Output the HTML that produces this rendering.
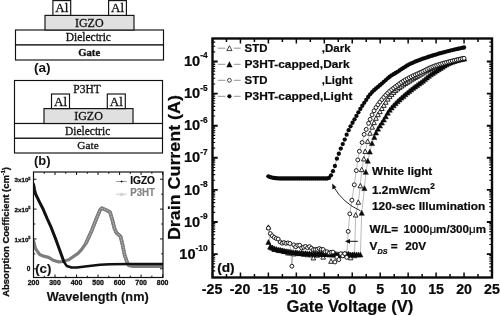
<!DOCTYPE html>
<html lang="en">
<head>
<meta charset="utf-8">
<title>Figure</title>
<style>
html,body{margin:0;padding:0;background:#fff;}
body{width:500px;height:316px;overflow:hidden;font-family:"Liberation Sans",Arial,sans-serif;}
svg{display:block;}
svg text{white-space:pre;}
</style>
</head>
<body>
<svg width="500" height="316" viewBox="0 0 500 316">
<rect width="500" height="316" fill="#fff"/>
<g fill="#fff" stroke="#111" stroke-width="1.15">
<rect x="15.5" y="30" width="148" height="15"/>
<rect x="15.5" y="45" width="148" height="15"/>
<rect x="45" y="15.4" width="89" height="14.6" fill="#e0e0e0"/>
<rect x="52.9" y="0.6" width="17.8" height="14.8"/>
<rect x="108.6" y="0.6" width="17.8" height="14.8"/>
<rect x="14.5" y="80.5" width="148" height="43"/>
<rect x="14.5" y="123.5" width="148" height="14.8"/>
<rect x="14.5" y="138.3" width="148" height="14.7"/>
<rect x="44" y="108.6" width="89" height="14.9" fill="#e0e0e0"/>
<rect x="51.5" y="94" width="18" height="14.6"/>
<rect x="107.3" y="94" width="18" height="14.6"/>
</g>
<g font-family='"Liberation Serif", "Times New Roman", Times, serif' fill="#111" text-anchor="middle" stroke="#111" stroke-width="0.3">
<text x="61.8" y="12.4" font-size="13.1">Al</text>
<text x="117.5" y="12.4" font-size="13.1">Al</text>
<text x="89.3" y="26.8" font-size="12">IGZO</text>
<text x="88.3" y="41.2" font-size="11.5">Dielectric</text>
<text x="89.2" y="56.2" font-size="10.7" font-weight="bold">Gate</text>
<text x="87" y="93.4" font-size="11.5">P3HT</text>
<text x="60.5" y="105.8" font-size="13.1">Al</text>
<text x="116.3" y="105.8" font-size="13.1">Al</text>
<text x="88.5" y="120.3" font-size="12">IGZO</text>
<text x="87.6" y="134.6" font-size="11.5">Dielectric</text>
<text x="88" y="149.4" font-size="11.3">Gate</text>
</g>
<g font-family='"Liberation Sans", Arial, Helvetica, sans-serif' fill="#111" font-weight="bold">
<text x="34" y="71.6" font-size="12.3" textLength="16.6" lengthAdjust="spacingAndGlyphs">(a)</text>
<text x="34" y="164.6" font-size="12.3" textLength="16.6" lengthAdjust="spacingAndGlyphs">(b)</text>
</g>
<clipPath id="cc"><rect x="33.5" y="172" width="129.5" height="105.5"/></clipPath>
<g clip-path="url(#cc)" fill="none" stroke-linejoin="round">
<path d="M33.4 240.2 L35.4 248.3 L39.5 254.4 L44.5 256.4 L48.6 257.4 L52.6 259.9 L58.7 261.9 L62.8 261.5 L68.8 259.8 L78 253.4 L81.5 249.6 L85.8 243.5 L91.8 230.4 L96.6 218.2 L100 210.1 L101.9 208.1 L106.3 210.1 L110 212.1 L112.4 220.2 L114.4 228.3 L116.4 232.8 L120.5 236.4 L122.5 244.5 L124.5 254.7 L127 262 L128.8 265.6 L132 266.3 L163 266.3" stroke="#7d7d7d" stroke-width="3.2"/>
<path d="M85.8 243.5 L91.8 230.4 L96.6 218.2 L100 210.1 L101.9 208.1 L106.3 210.1 L110 212.1 L112.4 220.2 L114.4 228.3 L116.4 232.8 L120.5 236.4 L122.5 244.5 L124.5 254.7 L127 262 L128.8 265.6" stroke="#7d7d7d" stroke-width="3.7"/>
<path d="M85.8 243.5 L91.8 230.4 L96.6 218.2 L100 210.1 L101.9 208.1 L106.3 210.1 L110 212.1 L112.4 220.2 L114.4 228.3 L116.4 232.8 L120.5 236.4 L122.5 244.5 L124.5 254.7 L127 262 L128.8 265.6" stroke="#cdcdcd" stroke-width="1" stroke-dasharray="0.9 0.9"/>
<path d="M33.4 183.5 L34.5 189.5 L35.6 194 L39.4 201.8 L43.2 209.3 L46.9 218 L50.7 226.3 L56.4 240.9 L61.1 254.1 L64 262" stroke="#111" stroke-width="3" stroke-linecap="butt"/>
<path d="M64 262 L66.8 266 L71.5 267.5 L76.9 267.6 L85 266.6 L100 264.8 L110 264.2 L130 264.1 L163 264.1" stroke="#111" stroke-width="2.5" stroke-linecap="round"/>
</g>
<rect x="33.5" y="172" width="129.5" height="105.5" fill="none" stroke="#111" stroke-width="1.2"/>
<path d="M33.5 277.5v-3M33.5 172v3M44.26 277.5v-1.8M44.26 172v1.8M55.02 277.5v-3M55.02 172v3M65.78 277.5v-1.8M65.78 172v1.8M76.54 277.5v-3M76.54 172v3M87.3 277.5v-1.8M87.3 172v1.8M98.06 277.5v-3M98.06 172v3M108.82 277.5v-1.8M108.82 172v1.8M119.58 277.5v-3M119.58 172v3M130.34 277.5v-1.8M130.34 172v1.8M141.1 277.5v-3M141.1 172v3M151.86 277.5v-1.8M151.86 172v1.8M162.62 277.5v-3M162.62 172v3M33.5 268.8h3M163 268.8h-3M33.5 253.87h1.8M163 253.87h-1.8M33.5 238.94h3M163 238.94h-3M33.5 224.01h1.8M163 224.01h-1.8M33.5 209.08h3M163 209.08h-3M33.5 194.15h1.8M163 194.15h-1.8M33.5 179.22h3M163 179.22h-3" stroke="#111" stroke-width="1" fill="none"/>
<g font-family='"Liberation Sans", Arial, Helvetica, sans-serif' fill="#111" font-weight="bold" stroke="#111" stroke-width="0.3">
<text x="33.5" y="285.3" font-size="6.9" text-anchor="middle">200</text>
<text x="55.02" y="285.3" font-size="6.9" text-anchor="middle">300</text>
<text x="76.54" y="285.3" font-size="6.9" text-anchor="middle">400</text>
<text x="98.06" y="285.3" font-size="6.9" text-anchor="middle">500</text>
<text x="119.58" y="285.3" font-size="6.9" text-anchor="middle">600</text>
<text x="141.1" y="285.3" font-size="6.9" text-anchor="middle">700</text>
<text x="162.62" y="285.3" font-size="6.9" text-anchor="middle">800</text>
<text x="30.6" y="241.84" font-size="6.2" text-anchor="end">1x10<tspan font-size="4" dy="-2.6">5</tspan></text>
<text x="30.6" y="211.98" font-size="6.2" text-anchor="end">2x10<tspan font-size="4" dy="-2.6">5</tspan></text>
<text x="30.6" y="182.12" font-size="6.2" text-anchor="end">3x10<tspan font-size="4" dy="-2.6">5</tspan></text>
<text x="30.3" y="271.1" font-size="6.4" text-anchor="end">0</text>
<text x="46.7" y="301.2" font-size="11.9" textLength="102" lengthAdjust="spacingAndGlyphs" stroke-width="0.15">Wavelength (nm)</text>
<text transform="translate(8.6 296.8) rotate(-90)" font-size="8.7" textLength="129.7" lengthAdjust="spacingAndGlyphs">Absorption Coefficient (cm<tspan font-size="5" dy="-3.2">-1</tspan><tspan dy="3.2">)</tspan></text>
<text x="35.2" y="273.2" font-size="12.6" textLength="16.2" lengthAdjust="spacingAndGlyphs" stroke-width="0.15">(c)</text>
<text x="130.2" y="183.5" font-size="10.1" textLength="24.8" lengthAdjust="spacingAndGlyphs" stroke-width="0.2">IGZO</text>
<text x="130.2" y="195.7" font-size="10.1" textLength="24.8" lengthAdjust="spacingAndGlyphs" fill="#858585" stroke="#858585" stroke-width="0.2">P3HT</text>
</g>
<path d="M116.2 181.5h10.6" stroke="#444" stroke-width="0.55"/>
<path d="M120.6 181.5h2M121.6 180.5v2" stroke="#111" stroke-width="0.9"/>
<path d="M116.2 194.2h10.6" stroke="#a0a0a0" stroke-width="0.55"/>
<path d="M120.2 195.3l1.4-2.5 1.4 2.5z" fill="#fff" stroke="#999" stroke-width="0.5"/>
<clipPath id="cd"><rect x="212.5" y="38.5" width="279.5" height="239"/></clipPath>
<g clip-path="url(#cd)">
<path d="M268.4 242.4 L270.36 247.1 L272.31 248.19 L274.27 248.66 L276.23 249.41 L278.18 249.83 L280.14 250.16 L282.1 250.77 L284.05 250.99 L286.01 251.53 L287.97 251.72 L289.92 252.03 L291.88 252.42 L293.83 252.83 L295.79 252.77 L297.75 253 L299.7 253.33 L301.66 253.6 L303.62 253.58 L305.57 253.63 L307.53 253.98 L309.49 253.72 L311.44 254.14 L313.4 254 L315.36 254.02 L317.31 254.08 L319.27 254.21 L321.23 254.45 L323.18 254.24 L325.14 254.44 L327.1 254.5 L329.05 254.43 L331.01 254.53 L332.96 254.37 L334.92 254.4 L336.88 254.49 L338.83 254.71 L340.79 254.63 L342.75 254.61 L344.7 254.74 L346.66 254.71 L348.62 254.66 L350.57 254.88 L352.53 254.85 L354.49 254.68 L356.44 254.82 L358.4 254.81 L360.36 254.95 L361.7 213.2 L364.4 188.5 L365.8 172.3 L367.8 161.1 L369.8 152 L372 143.5 L374.3 137.4 L376.01 132.96 L377.96 129.08 L379.92 125.95 L381.88 123.01 L383.83 119.94 L385.79 116.67 L387.75 113.12 L389.7 110.23 L391.66 107.81 L393.62 105.66 L395.57 103.64 L397.53 101.67 L399.49 99.81 L401.44 98.05 L403.4 96.34 L405.36 94.65 L407.31 92.99 L409.27 91.38 L411.22 89.8 L413.18 88.27 L415.14 86.8 L417.09 85.38 L419.05 83.97 L421.01 82.55 L422.96 81.09 L424.92 79.54 L426.88 77.91 L428.83 76.28 L430.79 74.79 L432.75 73.41 L434.7 72.1 L436.66 70.83 L438.62 69.61 L440.57 68.42 L442.53 67.2 L444.49 65.97 L446.44 64.78 L448.4 63.71 L450.35 62.83 L452.31 62.11 L454.27 61.43 L456.22 60.79 L458.18 60.21 L460.14 59.71 L462.09 59.3 L464.05 59" fill="none" stroke="#666" stroke-width="0.45"/>
<path d="M268.4 227.4 L270.36 247.07 L272.31 247.59 L274.27 249.69 L276.23 249.67 L278.18 250.55 L280.14 250.79 L282.1 250.66 L284.05 251.69 L286.01 251.76 L287.97 253.17 L289.92 252.85 L291.88 253.2 L293.83 254.08 L295.79 252.75 L297.75 253.79 L299.7 253.49 L301.66 252.87 L303.62 254.44 L305.57 253.42 L307.53 254.91 L309.49 254.09 L311.44 255.14 L313.4 258.1 L315.36 254.28 L317.31 255.38 L319.27 253.82 L321.23 254.04 L323.18 257.3 L325.14 254.18 L327.1 254.56 L329.05 254.92 L331.01 261.5 L332.96 255.1 L334.92 253.9 L336.88 255.52 L338.83 255.59 L340.79 254.74 L342.75 255.28 L344.7 254.05 L346.66 254.28 L348.62 254.06 L350.57 258 L352.53 254.77 L354.49 255.91 L355.7 215.2 L358.3 202.4 L360.3 186 L361.7 169.8 L363.8 159.1 L365.2 151.6 L367.6 141.5 L370 133.4 L372.2 127.3 L374.05 122.78 L376.01 118.46 L377.96 114.85 L379.92 111.78 L381.88 108.67 L383.83 105.53 L385.79 102.41 L387.75 99.31 L389.7 96.77 L391.66 94.56 L393.62 92.57 L395.57 90.77 L397.53 89.12 L399.49 87.64 L401.44 86.29 L403.4 84.99 L405.36 83.71 L407.31 82.46 L409.27 81.25 L411.22 80.07 L413.18 78.89 L415.14 77.73 L417.09 76.58 L419.05 75.44 L421.01 74.31 L422.96 73.17 L424.92 72 L426.88 70.79 L428.83 69.64 L430.79 68.67 L432.75 67.84 L434.7 67.06 L436.66 66.33 L438.62 65.64 L440.57 64.99 L442.53 64.38 L444.49 63.78 L446.44 63.21 L448.4 62.65 L450.35 62.1 L452.31 61.55 L454.27 61.03 L456.22 60.52 L458.18 60.04 L460.14 59.57 L462.09 59.12 L464.05 58.7" fill="none" stroke="#666" stroke-width="0.45"/>
<path d="M268.4 228.12 L270.36 233.58 L272.31 235.81 L274.27 237.39 L276.23 238.47 L278.18 239.08 L280.14 241.97 L282.1 243.17 L284.05 242.56 L286.01 243.3 L287.97 242.9 L289.92 243.5 L291.88 266.2 L293.83 244.86 L295.79 246.71 L297.75 245.32 L299.7 245.28 L301.66 247.98 L303.62 247.16 L305.57 246.42 L307.53 247.71 L309.49 246.63 L311.44 248.2 L313.4 249.62 L315.36 249.55 L317.31 249.36 L319.27 248.54 L321.23 249.32 L323.18 249.52 L325.14 251.75 L327.1 251.75 L329.05 253.01 L331.01 252.27 L332.96 252.11 L334.92 262 L336.88 257.3 L338.83 259.6 L340.79 253.78 L342.75 255.9 L344.7 253.62 L346.66 257.3 L348.2 231.4 L349.8 213.8 L351.9 200.2 L354.3 184.8 L356.3 170.6 L357.8 159.9 L359.4 151.3 L362.1 142.5 L364.1 134.4 L366.2 129.4 L368.6 123.3 L370.14 119.37 L372.09 114.85 L374.05 110.81 L376.01 107.51 L377.96 104.62 L379.92 102.02 L381.88 99.57 L383.83 97.26 L385.79 95.1 L387.75 93.11 L389.7 91.29 L391.66 89.64 L393.62 88.11 L395.57 86.64 L397.53 85.18 L399.49 83.75 L401.44 82.36 L403.4 81.05 L405.36 79.85 L407.31 78.75 L409.27 77.72 L411.22 76.73 L413.18 75.77 L415.14 74.85 L417.09 73.96 L419.05 73.09 L421.01 72.21 L422.96 71.31 L424.92 70.33 L426.88 69.27 L428.83 68.25 L430.79 67.39 L432.75 66.64 L434.7 65.93 L436.66 65.27 L438.62 64.64 L440.57 64.05 L442.53 63.48 L444.49 62.94 L446.44 62.41 L448.4 61.89 L450.35 61.39 L452.31 60.89 L454.27 60.41 L456.22 59.95 L458.18 59.51 L460.14 59.08 L462.09 58.67 L464.05 58.28" fill="none" stroke="#666" stroke-width="0.45"/>
<path d="M268.4 176.37 L270.36 177.15 L272.31 177.66 L274.27 177.99 L276.23 178.26 L278.18 178.44 L280.14 178.5 L282.1 178.5 L284.05 178.5 L286.01 178.5 L287.97 178.5 L289.92 178.5 L291.88 178.5 L293.83 178.5 L295.79 178.5 L297.75 178.5 L299.7 178.5 L301.66 178.5 L303.62 178.5 L305.57 178.5 L307.53 178.5 L309.49 178.5 L311.44 178.5 L313.4 178.5 L315.36 178.5 L317.31 178.5 L319.27 178.5 L321.23 178.5 L323.18 178.5 L325.14 178.5 L327.1 178.5 L329.05 177.93 L331.01 175.31 L332.96 171.14 L334.92 165.98 L336.88 158.69 L338.83 153.75 L340.79 148.59 L342.75 144.07 L344.7 139.53 L346.66 134.63 L348.62 130.13 L350.57 126.33 L352.53 122.76 L354.49 119.32 L356.44 115.92 L358.4 112.37 L360.36 108.91 L362.31 105.77 L364.27 102.82 L366.23 99.92 L368.18 96.99 L370.14 94.3 L372.09 92.12 L374.05 90.23 L376.01 88.51 L377.96 86.89 L379.92 85.26 L381.88 83.55 L383.83 81.78 L385.79 80.03 L387.75 78.33 L389.7 76.76 L391.66 75.35 L393.62 74.13 L395.57 72.98 L397.53 71.78 L399.49 70.51 L401.44 69.2 L403.4 67.9 L405.36 66.63 L407.31 65.44 L409.27 64.36 L411.22 63.42 L413.18 62.53 L415.14 61.69 L417.09 60.9 L419.05 60.14 L421.01 59.42 L422.96 58.72 L424.92 58.04 L426.88 57.39 L428.83 56.74 L430.79 56.11 L432.75 55.49 L434.7 54.88 L436.66 54.29 L438.62 53.72 L440.57 53.17 L442.53 52.63 L444.49 52.1 L446.44 51.58 L448.4 51.08 L450.35 50.59 L452.31 50.1 L454.27 49.64 L456.22 49.18 L458.18 48.74 L460.14 48.31 L462.09 47.89 L464.05 47.49" fill="none" stroke="#666" stroke-width="0.45"/>
<g stroke="#111" stroke-width="0.9"><path d="M268.4 224.87l2.3 4.37h-4.6z" fill="#fff"/><path d="M270.36 244.54l2.3 4.37h-4.6z" fill="#fff"/><path d="M272.31 245.05l2.3 4.37h-4.6z" fill="#fff"/><path d="M274.27 247.16l2.3 4.37h-4.6z" fill="#fff"/><path d="M276.23 247.14l2.3 4.37h-4.6z" fill="#fff"/><path d="M278.18 248.02l2.3 4.37h-4.6z" fill="#fff"/><path d="M280.14 248.26l2.3 4.37h-4.6z" fill="#fff"/><path d="M282.1 248.12l2.3 4.37h-4.6z" fill="#fff"/><path d="M284.05 249.15l2.3 4.37h-4.6z" fill="#fff"/><path d="M286.01 249.22l2.3 4.37h-4.6z" fill="#fff"/><path d="M287.97 250.64l2.3 4.37h-4.6z" fill="#fff"/><path d="M289.92 250.32l2.3 4.37h-4.6z" fill="#fff"/><path d="M291.88 250.66l2.3 4.37h-4.6z" fill="#fff"/><path d="M293.83 251.55l2.3 4.37h-4.6z" fill="#fff"/><path d="M295.79 250.21l2.3 4.37h-4.6z" fill="#fff"/><path d="M297.75 251.25l2.3 4.37h-4.6z" fill="#fff"/><path d="M299.7 250.96l2.3 4.37h-4.6z" fill="#fff"/><path d="M301.66 250.34l2.3 4.37h-4.6z" fill="#fff"/><path d="M303.62 251.9l2.3 4.37h-4.6z" fill="#fff"/><path d="M305.57 250.88l2.3 4.37h-4.6z" fill="#fff"/><path d="M307.53 252.37l2.3 4.37h-4.6z" fill="#fff"/><path d="M309.49 251.55l2.3 4.37h-4.6z" fill="#fff"/><path d="M311.44 252.61l2.3 4.37h-4.6z" fill="#fff"/><path d="M313.4 255.57l2.3 4.37h-4.6z" fill="#fff"/><path d="M315.36 251.74l2.3 4.37h-4.6z" fill="#fff"/><path d="M317.31 252.84l2.3 4.37h-4.6z" fill="#fff"/><path d="M319.27 251.28l2.3 4.37h-4.6z" fill="#fff"/><path d="M321.23 251.5l2.3 4.37h-4.6z" fill="#fff"/><path d="M323.18 254.77l2.3 4.37h-4.6z" fill="#fff"/><path d="M325.14 251.65l2.3 4.37h-4.6z" fill="#fff"/><path d="M327.1 252.03l2.3 4.37h-4.6z" fill="#fff"/><path d="M329.05 252.39l2.3 4.37h-4.6z" fill="#fff"/><path d="M331.01 258.97l2.3 4.37h-4.6z" fill="#fff"/><path d="M332.96 252.57l2.3 4.37h-4.6z" fill="#fff"/><path d="M334.92 251.36l2.3 4.37h-4.6z" fill="#fff"/><path d="M336.88 252.99l2.3 4.37h-4.6z" fill="#fff"/><path d="M338.83 253.05l2.3 4.37h-4.6z" fill="#fff"/><path d="M340.79 252.2l2.3 4.37h-4.6z" fill="#fff"/><path d="M342.75 252.75l2.3 4.37h-4.6z" fill="#fff"/><path d="M344.7 251.52l2.3 4.37h-4.6z" fill="#fff"/><path d="M346.66 251.75l2.3 4.37h-4.6z" fill="#fff"/><path d="M348.62 251.53l2.3 4.37h-4.6z" fill="#fff"/><path d="M350.57 255.47l2.3 4.37h-4.6z" fill="#fff"/><path d="M352.53 252.24l2.3 4.37h-4.6z" fill="#fff"/><path d="M354.49 253.37l2.3 4.37h-4.6z" fill="#fff"/><path d="M355.7 212.67l2.3 4.37h-4.6z" fill="#fff"/><path d="M358.3 199.87l2.3 4.37h-4.6z" fill="#fff"/><path d="M360.3 183.47l2.3 4.37h-4.6z" fill="#fff"/><path d="M361.7 167.27l2.3 4.37h-4.6z" fill="#fff"/><path d="M363.8 156.57l2.3 4.37h-4.6z" fill="#fff"/><path d="M365.2 149.07l2.3 4.37h-4.6z" fill="#fff"/><path d="M367.6 138.97l2.3 4.37h-4.6z" fill="#fff"/><path d="M370 130.87l2.3 4.37h-4.6z" fill="#fff"/><path d="M372.2 124.77l2.3 4.37h-4.6z" fill="#fff"/><path d="M374.05 120.24l2.3 4.37h-4.6z" fill="#fff"/><path d="M376.01 115.92l2.3 4.37h-4.6z" fill="#fff"/><path d="M377.96 112.32l2.3 4.37h-4.6z" fill="#fff"/><path d="M379.92 109.25l2.3 4.37h-4.6z" fill="#fff"/><path d="M381.88 106.13l2.3 4.37h-4.6z" fill="#fff"/><path d="M383.83 102.99l2.3 4.37h-4.6z" fill="#fff"/><path d="M385.79 99.87l2.3 4.37h-4.6z" fill="#fff"/><path d="M387.75 96.78l2.3 4.37h-4.6z" fill="#fff"/><path d="M389.7 94.24l2.3 4.37h-4.6z" fill="#fff"/><path d="M391.66 92.03l2.3 4.37h-4.6z" fill="#fff"/><path d="M393.62 90.04l2.3 4.37h-4.6z" fill="#fff"/><path d="M395.57 88.23l2.3 4.37h-4.6z" fill="#fff"/><path d="M397.53 86.59l2.3 4.37h-4.6z" fill="#fff"/><path d="M399.49 85.11l2.3 4.37h-4.6z" fill="#fff"/><path d="M401.44 83.75l2.3 4.37h-4.6z" fill="#fff"/><path d="M403.4 82.46l2.3 4.37h-4.6z" fill="#fff"/><path d="M405.36 81.17l2.3 4.37h-4.6z" fill="#fff"/><path d="M407.31 79.92l2.3 4.37h-4.6z" fill="#fff"/><path d="M409.27 78.72l2.3 4.37h-4.6z" fill="#fff"/><path d="M411.22 77.53l2.3 4.37h-4.6z" fill="#fff"/><path d="M413.18 76.36l2.3 4.37h-4.6z" fill="#fff"/><path d="M415.14 75.19l2.3 4.37h-4.6z" fill="#fff"/><path d="M417.09 74.04l2.3 4.37h-4.6z" fill="#fff"/><path d="M419.05 72.9l2.3 4.37h-4.6z" fill="#fff"/><path d="M421.01 71.77l2.3 4.37h-4.6z" fill="#fff"/><path d="M422.96 70.64l2.3 4.37h-4.6z" fill="#fff"/><path d="M424.92 69.47l2.3 4.37h-4.6z" fill="#fff"/><path d="M426.88 68.25l2.3 4.37h-4.6z" fill="#fff"/><path d="M428.83 67.1l2.3 4.37h-4.6z" fill="#fff"/><path d="M430.79 66.14l2.3 4.37h-4.6z" fill="#fff"/><path d="M432.75 65.3l2.3 4.37h-4.6z" fill="#fff"/><path d="M434.7 64.53l2.3 4.37h-4.6z" fill="#fff"/><path d="M436.66 63.8l2.3 4.37h-4.6z" fill="#fff"/><path d="M438.62 63.11l2.3 4.37h-4.6z" fill="#fff"/><path d="M440.57 62.46l2.3 4.37h-4.6z" fill="#fff"/><path d="M442.53 61.84l2.3 4.37h-4.6z" fill="#fff"/><path d="M444.49 61.25l2.3 4.37h-4.6z" fill="#fff"/><path d="M446.44 60.67l2.3 4.37h-4.6z" fill="#fff"/><path d="M448.4 60.11l2.3 4.37h-4.6z" fill="#fff"/><path d="M450.35 59.56l2.3 4.37h-4.6z" fill="#fff"/><path d="M452.31 59.02l2.3 4.37h-4.6z" fill="#fff"/><path d="M454.27 58.49l2.3 4.37h-4.6z" fill="#fff"/><path d="M456.22 57.99l2.3 4.37h-4.6z" fill="#fff"/><path d="M458.18 57.5l2.3 4.37h-4.6z" fill="#fff"/><path d="M460.14 57.04l2.3 4.37h-4.6z" fill="#fff"/><path d="M462.09 56.59l2.3 4.37h-4.6z" fill="#fff"/><path d="M464.05 56.16l2.3 4.37h-4.6z" fill="#fff"/></g>
<g stroke="#0a0a0a" stroke-width="0.5"><path d="M268.4 239.54l2.6 4.94h-5.2z" fill="#0a0a0a"/><path d="M270.36 244.24l2.6 4.94h-5.2z" fill="#0a0a0a"/><path d="M272.31 245.32l2.6 4.94h-5.2z" fill="#0a0a0a"/><path d="M274.27 245.79l2.6 4.94h-5.2z" fill="#0a0a0a"/><path d="M276.23 246.54l2.6 4.94h-5.2z" fill="#0a0a0a"/><path d="M278.18 246.96l2.6 4.94h-5.2z" fill="#0a0a0a"/><path d="M280.14 247.29l2.6 4.94h-5.2z" fill="#0a0a0a"/><path d="M282.1 247.91l2.6 4.94h-5.2z" fill="#0a0a0a"/><path d="M284.05 248.13l2.6 4.94h-5.2z" fill="#0a0a0a"/><path d="M286.01 248.66l2.6 4.94h-5.2z" fill="#0a0a0a"/><path d="M287.97 248.85l2.6 4.94h-5.2z" fill="#0a0a0a"/><path d="M289.92 249.16l2.6 4.94h-5.2z" fill="#0a0a0a"/><path d="M291.88 249.56l2.6 4.94h-5.2z" fill="#0a0a0a"/><path d="M293.83 249.96l2.6 4.94h-5.2z" fill="#0a0a0a"/><path d="M295.79 249.91l2.6 4.94h-5.2z" fill="#0a0a0a"/><path d="M297.75 250.14l2.6 4.94h-5.2z" fill="#0a0a0a"/><path d="M299.7 250.46l2.6 4.94h-5.2z" fill="#0a0a0a"/><path d="M301.66 250.73l2.6 4.94h-5.2z" fill="#0a0a0a"/><path d="M303.62 250.71l2.6 4.94h-5.2z" fill="#0a0a0a"/><path d="M305.57 250.77l2.6 4.94h-5.2z" fill="#0a0a0a"/><path d="M307.53 251.12l2.6 4.94h-5.2z" fill="#0a0a0a"/><path d="M309.49 250.85l2.6 4.94h-5.2z" fill="#0a0a0a"/><path d="M311.44 251.28l2.6 4.94h-5.2z" fill="#0a0a0a"/><path d="M313.4 251.14l2.6 4.94h-5.2z" fill="#0a0a0a"/><path d="M315.36 251.16l2.6 4.94h-5.2z" fill="#0a0a0a"/><path d="M317.31 251.21l2.6 4.94h-5.2z" fill="#0a0a0a"/><path d="M319.27 251.34l2.6 4.94h-5.2z" fill="#0a0a0a"/><path d="M321.23 251.59l2.6 4.94h-5.2z" fill="#0a0a0a"/><path d="M323.18 251.37l2.6 4.94h-5.2z" fill="#0a0a0a"/><path d="M325.14 251.57l2.6 4.94h-5.2z" fill="#0a0a0a"/><path d="M327.1 251.63l2.6 4.94h-5.2z" fill="#0a0a0a"/><path d="M329.05 251.56l2.6 4.94h-5.2z" fill="#0a0a0a"/><path d="M331.01 251.67l2.6 4.94h-5.2z" fill="#0a0a0a"/><path d="M332.96 251.5l2.6 4.94h-5.2z" fill="#0a0a0a"/><path d="M334.92 251.53l2.6 4.94h-5.2z" fill="#0a0a0a"/><path d="M336.88 251.62l2.6 4.94h-5.2z" fill="#0a0a0a"/><path d="M338.83 251.84l2.6 4.94h-5.2z" fill="#0a0a0a"/><path d="M340.79 251.77l2.6 4.94h-5.2z" fill="#0a0a0a"/><path d="M342.75 251.74l2.6 4.94h-5.2z" fill="#0a0a0a"/><path d="M344.7 251.88l2.6 4.94h-5.2z" fill="#0a0a0a"/><path d="M346.66 251.84l2.6 4.94h-5.2z" fill="#0a0a0a"/><path d="M348.62 251.8l2.6 4.94h-5.2z" fill="#0a0a0a"/><path d="M350.57 252.01l2.6 4.94h-5.2z" fill="#0a0a0a"/><path d="M352.53 251.99l2.6 4.94h-5.2z" fill="#0a0a0a"/><path d="M354.49 251.82l2.6 4.94h-5.2z" fill="#0a0a0a"/><path d="M356.44 251.96l2.6 4.94h-5.2z" fill="#0a0a0a"/><path d="M358.4 251.94l2.6 4.94h-5.2z" fill="#0a0a0a"/><path d="M360.36 252.08l2.6 4.94h-5.2z" fill="#0a0a0a"/><path d="M361.7 210.33l2.6 4.94h-5.2z" fill="#0a0a0a"/><path d="M364.4 185.63l2.6 4.94h-5.2z" fill="#0a0a0a"/><path d="M365.8 169.43l2.6 4.94h-5.2z" fill="#0a0a0a"/><path d="M367.8 158.23l2.6 4.94h-5.2z" fill="#0a0a0a"/><path d="M369.8 149.13l2.6 4.94h-5.2z" fill="#0a0a0a"/><path d="M372 140.63l2.6 4.94h-5.2z" fill="#0a0a0a"/><path d="M374.3 134.53l2.6 4.94h-5.2z" fill="#0a0a0a"/><path d="M376.01 130.09l2.6 4.94h-5.2z" fill="#0a0a0a"/><path d="M377.96 126.21l2.6 4.94h-5.2z" fill="#0a0a0a"/><path d="M379.92 123.08l2.6 4.94h-5.2z" fill="#0a0a0a"/><path d="M381.88 120.15l2.6 4.94h-5.2z" fill="#0a0a0a"/><path d="M383.83 117.07l2.6 4.94h-5.2z" fill="#0a0a0a"/><path d="M385.79 113.81l2.6 4.94h-5.2z" fill="#0a0a0a"/><path d="M387.75 110.26l2.6 4.94h-5.2z" fill="#0a0a0a"/><path d="M389.7 107.36l2.6 4.94h-5.2z" fill="#0a0a0a"/><path d="M391.66 104.95l2.6 4.94h-5.2z" fill="#0a0a0a"/><path d="M393.62 102.79l2.6 4.94h-5.2z" fill="#0a0a0a"/><path d="M395.57 100.77l2.6 4.94h-5.2z" fill="#0a0a0a"/><path d="M397.53 98.81l2.6 4.94h-5.2z" fill="#0a0a0a"/><path d="M399.49 96.95l2.6 4.94h-5.2z" fill="#0a0a0a"/><path d="M401.44 95.18l2.6 4.94h-5.2z" fill="#0a0a0a"/><path d="M403.4 93.47l2.6 4.94h-5.2z" fill="#0a0a0a"/><path d="M405.36 91.78l2.6 4.94h-5.2z" fill="#0a0a0a"/><path d="M407.31 90.13l2.6 4.94h-5.2z" fill="#0a0a0a"/><path d="M409.27 88.51l2.6 4.94h-5.2z" fill="#0a0a0a"/><path d="M411.22 86.94l2.6 4.94h-5.2z" fill="#0a0a0a"/><path d="M413.18 85.41l2.6 4.94h-5.2z" fill="#0a0a0a"/><path d="M415.14 83.94l2.6 4.94h-5.2z" fill="#0a0a0a"/><path d="M417.09 82.52l2.6 4.94h-5.2z" fill="#0a0a0a"/><path d="M419.05 81.11l2.6 4.94h-5.2z" fill="#0a0a0a"/><path d="M421.01 79.69l2.6 4.94h-5.2z" fill="#0a0a0a"/><path d="M422.96 78.22l2.6 4.94h-5.2z" fill="#0a0a0a"/><path d="M424.92 76.68l2.6 4.94h-5.2z" fill="#0a0a0a"/><path d="M426.88 75.04l2.6 4.94h-5.2z" fill="#0a0a0a"/><path d="M428.83 73.42l2.6 4.94h-5.2z" fill="#0a0a0a"/><path d="M430.79 71.92l2.6 4.94h-5.2z" fill="#0a0a0a"/><path d="M432.75 70.55l2.6 4.94h-5.2z" fill="#0a0a0a"/><path d="M434.7 69.23l2.6 4.94h-5.2z" fill="#0a0a0a"/><path d="M436.66 67.97l2.6 4.94h-5.2z" fill="#0a0a0a"/><path d="M438.62 66.75l2.6 4.94h-5.2z" fill="#0a0a0a"/><path d="M440.57 65.55l2.6 4.94h-5.2z" fill="#0a0a0a"/><path d="M442.53 64.34l2.6 4.94h-5.2z" fill="#0a0a0a"/><path d="M444.49 63.1l2.6 4.94h-5.2z" fill="#0a0a0a"/><path d="M446.44 61.92l2.6 4.94h-5.2z" fill="#0a0a0a"/><path d="M448.4 60.85l2.6 4.94h-5.2z" fill="#0a0a0a"/><path d="M450.35 59.97l2.6 4.94h-5.2z" fill="#0a0a0a"/><path d="M452.31 59.25l2.6 4.94h-5.2z" fill="#0a0a0a"/><path d="M454.27 58.56l2.6 4.94h-5.2z" fill="#0a0a0a"/><path d="M456.22 57.92l2.6 4.94h-5.2z" fill="#0a0a0a"/><path d="M458.18 57.34l2.6 4.94h-5.2z" fill="#0a0a0a"/><path d="M460.14 56.84l2.6 4.94h-5.2z" fill="#0a0a0a"/><path d="M462.09 56.44l2.6 4.94h-5.2z" fill="#0a0a0a"/><path d="M464.05 56.14l2.6 4.94h-5.2z" fill="#0a0a0a"/></g>
<g stroke="#111" stroke-width="0.95" fill="#fff"><circle cx="268.4" cy="228.12" r="1.95"/><circle cx="270.36" cy="233.58" r="1.95"/><circle cx="272.31" cy="235.81" r="1.95"/><circle cx="274.27" cy="237.39" r="1.95"/><circle cx="276.23" cy="238.47" r="1.95"/><circle cx="278.18" cy="239.08" r="1.95"/><circle cx="280.14" cy="241.97" r="1.95"/><circle cx="282.1" cy="243.17" r="1.95"/><circle cx="284.05" cy="242.56" r="1.95"/><circle cx="286.01" cy="243.3" r="1.95"/><circle cx="287.97" cy="242.9" r="1.95"/><circle cx="289.92" cy="243.5" r="1.95"/><circle cx="291.88" cy="266.2" r="1.95"/><circle cx="293.83" cy="244.86" r="1.95"/><circle cx="295.79" cy="246.71" r="1.95"/><circle cx="297.75" cy="245.32" r="1.95"/><circle cx="299.7" cy="245.28" r="1.95"/><circle cx="301.66" cy="247.98" r="1.95"/><circle cx="303.62" cy="247.16" r="1.95"/><circle cx="305.57" cy="246.42" r="1.95"/><circle cx="307.53" cy="247.71" r="1.95"/><circle cx="309.49" cy="246.63" r="1.95"/><circle cx="311.44" cy="248.2" r="1.95"/><circle cx="313.4" cy="249.62" r="1.95"/><circle cx="315.36" cy="249.55" r="1.95"/><circle cx="317.31" cy="249.36" r="1.95"/><circle cx="319.27" cy="248.54" r="1.95"/><circle cx="321.23" cy="249.32" r="1.95"/><circle cx="323.18" cy="249.52" r="1.95"/><circle cx="325.14" cy="251.75" r="1.95"/><circle cx="327.1" cy="251.75" r="1.95"/><circle cx="329.05" cy="253.01" r="1.95"/><circle cx="331.01" cy="252.27" r="1.95"/><circle cx="332.96" cy="252.11" r="1.95"/><circle cx="334.92" cy="262" r="1.95"/><circle cx="336.88" cy="257.3" r="1.95"/><circle cx="338.83" cy="259.6" r="1.95"/><circle cx="340.79" cy="253.78" r="1.95"/><circle cx="342.75" cy="255.9" r="1.95"/><circle cx="344.7" cy="253.62" r="1.95"/><circle cx="346.66" cy="257.3" r="1.95"/><circle cx="348.2" cy="231.4" r="1.95"/><circle cx="349.8" cy="213.8" r="1.95"/><circle cx="351.9" cy="200.2" r="1.95"/><circle cx="354.3" cy="184.8" r="1.95"/><circle cx="356.3" cy="170.6" r="1.95"/><circle cx="357.8" cy="159.9" r="1.95"/><circle cx="359.4" cy="151.3" r="1.95"/><circle cx="362.1" cy="142.5" r="1.95"/><circle cx="364.1" cy="134.4" r="1.95"/><circle cx="366.2" cy="129.4" r="1.95"/><circle cx="368.6" cy="123.3" r="1.95"/><circle cx="370.14" cy="119.37" r="1.95"/><circle cx="372.09" cy="114.85" r="1.95"/><circle cx="374.05" cy="110.81" r="1.95"/><circle cx="376.01" cy="107.51" r="1.95"/><circle cx="377.96" cy="104.62" r="1.95"/><circle cx="379.92" cy="102.02" r="1.95"/><circle cx="381.88" cy="99.57" r="1.95"/><circle cx="383.83" cy="97.26" r="1.95"/><circle cx="385.79" cy="95.1" r="1.95"/><circle cx="387.75" cy="93.11" r="1.95"/><circle cx="389.7" cy="91.29" r="1.95"/><circle cx="391.66" cy="89.64" r="1.95"/><circle cx="393.62" cy="88.11" r="1.95"/><circle cx="395.57" cy="86.64" r="1.95"/><circle cx="397.53" cy="85.18" r="1.95"/><circle cx="399.49" cy="83.75" r="1.95"/><circle cx="401.44" cy="82.36" r="1.95"/><circle cx="403.4" cy="81.05" r="1.95"/><circle cx="405.36" cy="79.85" r="1.95"/><circle cx="407.31" cy="78.75" r="1.95"/><circle cx="409.27" cy="77.72" r="1.95"/><circle cx="411.22" cy="76.73" r="1.95"/><circle cx="413.18" cy="75.77" r="1.95"/><circle cx="415.14" cy="74.85" r="1.95"/><circle cx="417.09" cy="73.96" r="1.95"/><circle cx="419.05" cy="73.09" r="1.95"/><circle cx="421.01" cy="72.21" r="1.95"/><circle cx="422.96" cy="71.31" r="1.95"/><circle cx="424.92" cy="70.33" r="1.95"/><circle cx="426.88" cy="69.27" r="1.95"/><circle cx="428.83" cy="68.25" r="1.95"/><circle cx="430.79" cy="67.39" r="1.95"/><circle cx="432.75" cy="66.64" r="1.95"/><circle cx="434.7" cy="65.93" r="1.95"/><circle cx="436.66" cy="65.27" r="1.95"/><circle cx="438.62" cy="64.64" r="1.95"/><circle cx="440.57" cy="64.05" r="1.95"/><circle cx="442.53" cy="63.48" r="1.95"/><circle cx="444.49" cy="62.94" r="1.95"/><circle cx="446.44" cy="62.41" r="1.95"/><circle cx="448.4" cy="61.89" r="1.95"/><circle cx="450.35" cy="61.39" r="1.95"/><circle cx="452.31" cy="60.89" r="1.95"/><circle cx="454.27" cy="60.41" r="1.95"/><circle cx="456.22" cy="59.95" r="1.95"/><circle cx="458.18" cy="59.51" r="1.95"/><circle cx="460.14" cy="59.08" r="1.95"/><circle cx="462.09" cy="58.67" r="1.95"/><circle cx="464.05" cy="58.28" r="1.95"/></g>
<g fill="#0a0a0a"><circle cx="268.4" cy="176.37" r="2.15"/><circle cx="270.36" cy="177.15" r="2.15"/><circle cx="272.31" cy="177.66" r="2.15"/><circle cx="274.27" cy="177.99" r="2.15"/><circle cx="276.23" cy="178.26" r="2.15"/><circle cx="278.18" cy="178.44" r="2.15"/><circle cx="280.14" cy="178.5" r="2.15"/><circle cx="282.1" cy="178.5" r="2.15"/><circle cx="284.05" cy="178.5" r="2.15"/><circle cx="286.01" cy="178.5" r="2.15"/><circle cx="287.97" cy="178.5" r="2.15"/><circle cx="289.92" cy="178.5" r="2.15"/><circle cx="291.88" cy="178.5" r="2.15"/><circle cx="293.83" cy="178.5" r="2.15"/><circle cx="295.79" cy="178.5" r="2.15"/><circle cx="297.75" cy="178.5" r="2.15"/><circle cx="299.7" cy="178.5" r="2.15"/><circle cx="301.66" cy="178.5" r="2.15"/><circle cx="303.62" cy="178.5" r="2.15"/><circle cx="305.57" cy="178.5" r="2.15"/><circle cx="307.53" cy="178.5" r="2.15"/><circle cx="309.49" cy="178.5" r="2.15"/><circle cx="311.44" cy="178.5" r="2.15"/><circle cx="313.4" cy="178.5" r="2.15"/><circle cx="315.36" cy="178.5" r="2.15"/><circle cx="317.31" cy="178.5" r="2.15"/><circle cx="319.27" cy="178.5" r="2.15"/><circle cx="321.23" cy="178.5" r="2.15"/><circle cx="323.18" cy="178.5" r="2.15"/><circle cx="325.14" cy="178.5" r="2.15"/><circle cx="327.1" cy="178.5" r="2.15"/><circle cx="329.05" cy="177.93" r="2.15"/><circle cx="331.01" cy="175.31" r="2.15"/><circle cx="332.96" cy="171.14" r="2.15"/><circle cx="334.92" cy="165.98" r="2.15"/><circle cx="336.88" cy="158.69" r="2.15"/><circle cx="338.83" cy="153.75" r="2.15"/><circle cx="340.79" cy="148.59" r="2.15"/><circle cx="342.75" cy="144.07" r="2.15"/><circle cx="344.7" cy="139.53" r="2.15"/><circle cx="346.66" cy="134.63" r="2.15"/><circle cx="348.62" cy="130.13" r="2.15"/><circle cx="350.57" cy="126.33" r="2.15"/><circle cx="352.53" cy="122.76" r="2.15"/><circle cx="354.49" cy="119.32" r="2.15"/><circle cx="356.44" cy="115.92" r="2.15"/><circle cx="358.4" cy="112.37" r="2.15"/><circle cx="360.36" cy="108.91" r="2.15"/><circle cx="362.31" cy="105.77" r="2.15"/><circle cx="364.27" cy="102.82" r="2.15"/><circle cx="366.23" cy="99.92" r="2.15"/><circle cx="368.18" cy="96.99" r="2.15"/><circle cx="370.14" cy="94.3" r="2.15"/><circle cx="372.09" cy="92.12" r="2.15"/><circle cx="374.05" cy="90.23" r="2.15"/><circle cx="376.01" cy="88.51" r="2.15"/><circle cx="377.96" cy="86.89" r="2.15"/><circle cx="379.92" cy="85.26" r="2.15"/><circle cx="381.88" cy="83.55" r="2.15"/><circle cx="383.83" cy="81.78" r="2.15"/><circle cx="385.79" cy="80.03" r="2.15"/><circle cx="387.75" cy="78.33" r="2.15"/><circle cx="389.7" cy="76.76" r="2.15"/><circle cx="391.66" cy="75.35" r="2.15"/><circle cx="393.62" cy="74.13" r="2.15"/><circle cx="395.57" cy="72.98" r="2.15"/><circle cx="397.53" cy="71.78" r="2.15"/><circle cx="399.49" cy="70.51" r="2.15"/><circle cx="401.44" cy="69.2" r="2.15"/><circle cx="403.4" cy="67.9" r="2.15"/><circle cx="405.36" cy="66.63" r="2.15"/><circle cx="407.31" cy="65.44" r="2.15"/><circle cx="409.27" cy="64.36" r="2.15"/><circle cx="411.22" cy="63.42" r="2.15"/><circle cx="413.18" cy="62.53" r="2.15"/><circle cx="415.14" cy="61.69" r="2.15"/><circle cx="417.09" cy="60.9" r="2.15"/><circle cx="419.05" cy="60.14" r="2.15"/><circle cx="421.01" cy="59.42" r="2.15"/><circle cx="422.96" cy="58.72" r="2.15"/><circle cx="424.92" cy="58.04" r="2.15"/><circle cx="426.88" cy="57.39" r="2.15"/><circle cx="428.83" cy="56.74" r="2.15"/><circle cx="430.79" cy="56.11" r="2.15"/><circle cx="432.75" cy="55.49" r="2.15"/><circle cx="434.7" cy="54.88" r="2.15"/><circle cx="436.66" cy="54.29" r="2.15"/><circle cx="438.62" cy="53.72" r="2.15"/><circle cx="440.57" cy="53.17" r="2.15"/><circle cx="442.53" cy="52.63" r="2.15"/><circle cx="444.49" cy="52.1" r="2.15"/><circle cx="446.44" cy="51.58" r="2.15"/><circle cx="448.4" cy="51.08" r="2.15"/><circle cx="450.35" cy="50.59" r="2.15"/><circle cx="452.31" cy="50.1" r="2.15"/><circle cx="454.27" cy="49.64" r="2.15"/><circle cx="456.22" cy="49.18" r="2.15"/><circle cx="458.18" cy="48.74" r="2.15"/><circle cx="460.14" cy="48.31" r="2.15"/><circle cx="462.09" cy="47.89" r="2.15"/><circle cx="464.05" cy="47.49" r="2.15"/></g>
</g>
<path d="M360.5 210.8Q343 203 333.6 186.8" fill="none" stroke="#111" stroke-width="0.9"/>
<path d="M332.2 183.6l4.2 3.6-4 2.3z" fill="#111"/>
<path d="M357.8 241.3H349" fill="none" stroke="#111" stroke-width="1"/>
<path d="M345 241.3l5-2.4v4.8z" fill="#111"/>
<rect x="212.5" y="38.5" width="279.5" height="239" fill="none" stroke="#0a0a0a" stroke-width="2.4"/>
<path d="M212.5 277.5v-5M212.5 38.5v5M226.47 277.5v-3.4M226.47 38.5v3.4M240.45 277.5v-5M240.45 38.5v5M254.43 277.5v-3.4M254.43 38.5v3.4M268.4 277.5v-5M268.4 38.5v5M282.38 277.5v-3.4M282.38 38.5v3.4M296.35 277.5v-5M296.35 38.5v5M310.32 277.5v-3.4M310.32 38.5v3.4M324.3 277.5v-5M324.3 38.5v5M338.27 277.5v-3.4M338.27 38.5v3.4M352.25 277.5v-5M352.25 38.5v5M366.23 277.5v-3.4M366.23 38.5v3.4M380.2 277.5v-5M380.2 38.5v5M394.18 277.5v-3.4M394.18 38.5v3.4M408.15 277.5v-5M408.15 38.5v5M422.12 277.5v-3.4M422.12 38.5v3.4M436.1 277.5v-5M436.1 38.5v5M450.07 277.5v-3.4M450.07 38.5v3.4M464.05 277.5v-5M464.05 38.5v5M478.02 277.5v-3.4M478.02 38.5v3.4M492 277.5v-5M492 38.5v5" stroke="#0a0a0a" stroke-width="1.5" fill="none"/>
<path d="M212.5 270.88h2.7M492 270.88h-2.7M212.5 266.87h2.7M492 266.87h-2.7M212.5 263.76h2.7M492 263.76h-2.7M212.5 261.22h2.7M492 261.22h-2.7M212.5 259.07h2.7M492 259.07h-2.7M212.5 257.21h2.7M492 257.21h-2.7M212.5 255.57h2.7M492 255.57h-2.7M212.5 244.44h2.7M492 244.44h-2.7M212.5 238.78h2.7M492 238.78h-2.7M212.5 234.77h2.7M492 234.77h-2.7M212.5 231.66h2.7M492 231.66h-2.7M212.5 229.12h2.7M492 229.12h-2.7M212.5 226.97h2.7M492 226.97h-2.7M212.5 225.11h2.7M492 225.11h-2.7M212.5 223.47h2.7M492 223.47h-2.7M212.5 212.34h2.7M492 212.34h-2.7M212.5 206.68h2.7M492 206.68h-2.7M212.5 202.67h2.7M492 202.67h-2.7M212.5 199.56h2.7M492 199.56h-2.7M212.5 197.02h2.7M492 197.02h-2.7M212.5 194.87h2.7M492 194.87h-2.7M212.5 193.01h2.7M492 193.01h-2.7M212.5 191.37h2.7M492 191.37h-2.7M212.5 180.24h2.7M492 180.24h-2.7M212.5 174.58h2.7M492 174.58h-2.7M212.5 170.57h2.7M492 170.57h-2.7M212.5 167.46h2.7M492 167.46h-2.7M212.5 164.92h2.7M492 164.92h-2.7M212.5 162.77h2.7M492 162.77h-2.7M212.5 160.91h2.7M492 160.91h-2.7M212.5 159.27h2.7M492 159.27h-2.7M212.5 148.14h2.7M492 148.14h-2.7M212.5 142.48h2.7M492 142.48h-2.7M212.5 138.47h2.7M492 138.47h-2.7M212.5 135.36h2.7M492 135.36h-2.7M212.5 132.82h2.7M492 132.82h-2.7M212.5 130.67h2.7M492 130.67h-2.7M212.5 128.81h2.7M492 128.81h-2.7M212.5 127.17h2.7M492 127.17h-2.7M212.5 116.04h2.7M492 116.04h-2.7M212.5 110.38h2.7M492 110.38h-2.7M212.5 106.37h2.7M492 106.37h-2.7M212.5 103.26h2.7M492 103.26h-2.7M212.5 100.72h2.7M492 100.72h-2.7M212.5 98.57h2.7M492 98.57h-2.7M212.5 96.71h2.7M492 96.71h-2.7M212.5 95.07h2.7M492 95.07h-2.7M212.5 83.94h2.7M492 83.94h-2.7M212.5 78.28h2.7M492 78.28h-2.7M212.5 74.27h2.7M492 74.27h-2.7M212.5 71.16h2.7M492 71.16h-2.7M212.5 68.62h2.7M492 68.62h-2.7M212.5 66.47h2.7M492 66.47h-2.7M212.5 64.61h2.7M492 64.61h-2.7M212.5 62.97h2.7M492 62.97h-2.7M212.5 51.84h2.7M492 51.84h-2.7M212.5 46.18h2.7M492 46.18h-2.7M212.5 42.17h2.7M492 42.17h-2.7" stroke="#0a0a0a" stroke-width="1.1" fill="none"/>
<path d="M212.5 254.1h5.2M492 254.1h-5.2M212.5 222h5.2M492 222h-5.2M212.5 189.9h5.2M492 189.9h-5.2M212.5 157.8h5.2M492 157.8h-5.2M212.5 125.7h5.2M492 125.7h-5.2M212.5 93.6h5.2M492 93.6h-5.2M212.5 61.5h5.2M492 61.5h-5.2" stroke="#0a0a0a" stroke-width="1.9" fill="none"/>
<g font-family='"Liberation Sans", Arial, Helvetica, sans-serif' fill="#0a0a0a" font-weight="bold" stroke="#0a0a0a" stroke-width="0.22">
<text x="212.1" y="294" font-size="14.2" text-anchor="middle">-25</text>
<text x="240.05" y="294" font-size="14.2" text-anchor="middle">-20</text>
<text x="268" y="294" font-size="14.2" text-anchor="middle">-15</text>
<text x="295.95" y="294" font-size="14.2" text-anchor="middle">-10</text>
<text x="323.9" y="294" font-size="14.2" text-anchor="middle">-5</text>
<text x="352.25" y="294" font-size="14.2" text-anchor="middle">0</text>
<text x="380.2" y="294" font-size="14.2" text-anchor="middle">5</text>
<text x="408.15" y="294" font-size="14.2" text-anchor="middle">10</text>
<text x="436.1" y="294" font-size="14.2" text-anchor="middle">15</text>
<text x="464.05" y="294" font-size="14.2" text-anchor="middle">20</text>
<text x="492" y="294" font-size="14.2" text-anchor="middle">25</text>
<text x="207.6" y="258.7" font-size="14.6" text-anchor="end">10<tspan font-size="8.3" dy="-7.7">-10</tspan></text>
<text x="207.6" y="226.6" font-size="14.6" text-anchor="end">10<tspan font-size="8.3" dy="-7.7">-9</tspan></text>
<text x="207.6" y="194.5" font-size="14.6" text-anchor="end">10<tspan font-size="8.3" dy="-7.7">-8</tspan></text>
<text x="207.6" y="162.4" font-size="14.6" text-anchor="end">10<tspan font-size="8.3" dy="-7.7">-7</tspan></text>
<text x="207.6" y="130.3" font-size="14.6" text-anchor="end">10<tspan font-size="8.3" dy="-7.7">-6</tspan></text>
<text x="207.6" y="98.2" font-size="14.6" text-anchor="end">10<tspan font-size="8.3" dy="-7.7">-5</tspan></text>
<text x="207.6" y="66.1" font-size="14.6" text-anchor="end">10<tspan font-size="8.3" dy="-7.7">-4</tspan></text>
<text x="286.6" y="312.2" font-size="16.3" textLength="126.6" lengthAdjust="spacingAndGlyphs">Gate Voltage (V)</text>
<text transform="translate(180.3 240.1) rotate(-90)" font-size="17.2" textLength="145" lengthAdjust="spacingAndGlyphs">Drain Current (A)</text>
<text x="217.2" y="271.6" font-size="13.4" textLength="17.4" lengthAdjust="spacingAndGlyphs">(d)</text>
<text x="244.6" y="52.2" font-size="11.8" textLength="22.8" lengthAdjust="spacingAndGlyphs">STD</text>
<text x="321.8" y="52.2" font-size="11.8" textLength="28.8" lengthAdjust="spacingAndGlyphs">,Dark</text>
<text x="244.6" y="68.3" font-size="11.8" textLength="105" lengthAdjust="spacingAndGlyphs">P3HT-capped,Dark</text>
<text x="244.6" y="84.3" font-size="11.8" textLength="22.8" lengthAdjust="spacingAndGlyphs">STD</text>
<text x="321.8" y="84.3" font-size="11.8" textLength="30.6" lengthAdjust="spacingAndGlyphs">,Light</text>
<text x="244.6" y="100.3" font-size="11.8" textLength="107.8" lengthAdjust="spacingAndGlyphs">P3HT-capped,Light</text>
<text x="372" y="175.2" font-size="11.8">White light</text>
<text x="372" y="194.3" font-size="11.8">1.2mW/cm<tspan font-size="8.2" dy="-5.6">2</tspan></text>
<text x="372" y="210.3" font-size="11.8" textLength="113.2" lengthAdjust="spacingAndGlyphs">120-sec Illumination</text>
<text x="369.6" y="233.4" font-size="11.8">W/L=</text>
<text x="403.6" y="233.4" font-size="11.8" textLength="82.4" lengthAdjust="spacingAndGlyphs">1000<tspan font-weight="normal">μ</tspan>m/300<tspan font-weight="normal">μ</tspan>m</text>
<text x="369.6" y="249.8" font-size="11.8">V<tspan font-size="7.2" font-style="italic" dy="4.4">DS</tspan><tspan dy="-4.4"> =</tspan></text>
<text x="405.2" y="249.8" font-size="11.8">20V</text>
</g>
<path d="M217.8 48.2h7.6M233.8 48.2h6.8" stroke="#777" stroke-width="0.8"/>
<path d="M217.8 64.3h7.6M233.8 64.3h6.8" stroke="#777" stroke-width="0.8"/>
<path d="M217.8 80.3h7.6M233.8 80.3h6.8" stroke="#777" stroke-width="0.8"/>
<path d="M217.8 96.3h7.6M233.8 96.3h6.8" stroke="#777" stroke-width="0.8"/>
<path d="M226.8 50.6l2.6-4.9 2.6 4.9z" fill="#fff" stroke="#111" stroke-width="0.8"/>
<path d="M226.3 67.2l3.1-6 3.1 6z" fill="#0a0a0a"/>
<circle cx="229.4" cy="80.3" r="1.9" fill="#fff" stroke="#111" stroke-width="0.8"/>
<circle cx="229.4" cy="96.3" r="2.1" fill="#0a0a0a"/>
</svg>
</body>
</html>
